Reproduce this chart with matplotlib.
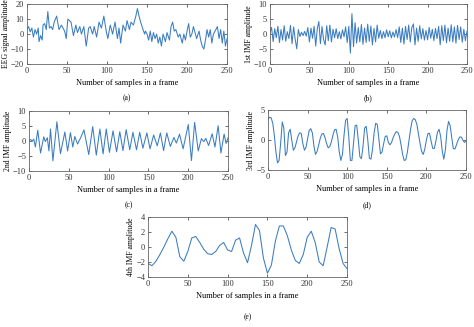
import matplotlib
matplotlib.use("Agg")
import matplotlib.pyplot as plt

plt.rcParams['font.family'] = ['Liberation Serif', 'DejaVu Serif']
plt.rcParams['font.size'] = 6

# (a) EEG signal (sample index, amplitude)
eeg_x = [0, 2, 4, 6, 8, 10, 12, 14, 15, 17, 19, 20, 22, 24, 26, 28, 30, 32, 34, 37,
         40, 43, 47, 49, 51, 55, 58, 61, 63, 66, 68, 71, 74, 77, 79, 82, 84, 87, 90, 93,
         96, 99, 101, 104, 107, 110, 113, 115, 117, 120, 123, 125, 128, 130, 133, 136, 138, 140, 142, 145,
         147, 148, 150, 152, 154, 156, 158, 160, 162, 164, 166, 168, 170, 173, 175, 178, 180, 182, 184, 186,
         189, 191, 194, 196, 198, 200, 202, 204, 206, 208, 210, 212, 215, 217, 219, 221, 223, 225, 227, 229,
         231, 233, 235, 238, 240, 242, 244, 246, 248, 250]
eeg_y = [3, 5, 1.5, 4, -2, 3, 0, 4, -5, -1, -4, 6, 7, 3, 15, 4, 5, 3, 8, 12,
         3, 6, 2, -3, 10, 8, -1, 6, 1, 5, 0, 5, -8, 4, 5, 0, 5, -2, 8, 4,
         12, 2, -3, 6, 0, 8, -3, 4, -6, 6, 2, 9, 3, 8, 6, 12, 17, 12, 8, 3,
         0, 2, 0, -4, 2, -5, 1, -3, 0, -6, -2, -8, 0, -5, 1, -4, 5, 8, 2, 3,
         -2, 0, -6, 0, -4, 2, 7, -2, 0, 5, 1, -3, 2, -4, -8, -10, -4, 3, -2, 3,
         -6, 0, 2, 5, -3, 3, -6, 2, -8, -3]

# (b) 1st IMF, every 2nd sample
imf1_x = list(range(0, 251, 2))
imf1_y = [0.5, 2.2, -2.5, 1.8, -1.2, 2.6, -2.8, 1.5, -2.0, 2.8,
          -2.4, 0.8, -1.5, 2.9, -3.2, 2.4, -1.8, -4.9, 1.5, -0.8,
          0.6, -0.5, 0.9, -0.7, 2.2, -2.6, 2.0, -1.4, 2.6, -4.0,
          1.8, 4.2, -3.2, 2.5, -1.8, -3.6, 2.8, -2.2, 3.0, -2.6,
          1.6, -1.2, 1.8, -1.5, 0.8, -1.6, 1.4, -0.9, 2.4, -2.8,
          2.6, -6.3, 6.8, -4.2, 3.8, -3.0, 2.2, -2.6, 3.2, -3.4,
          2.0, -2.8, 3.3, -2.4, 2.7, -3.6, 1.9, -2.6, 3.0, -1.4,
          1.2, -1.5, 0.8, -1.2, 1.4, -0.9, 1.1, -1.3, 0.7, -1.0,
          1.5, -1.2, 2.4, -2.8, 2.0, -3.3, 2.6, -1.8, 3.0, -2.6,
          2.2, 3.4, -3.6, 2.0, -2.4, 2.8, -1.6, 1.8, -2.0, 1.2,
          -1.9, 2.2, -1.4, 1.6, -2.2, 1.9, -1.5, 2.6, -3.6, 2.8,
          -2.2, 3.0, -2.9, 2.0, -2.4, 3.1, -2.6, 2.4, -3.0, 2.9,
          -1.8, 2.4, -2.7, 1.6, -2.2, 1.0]

# (c) 2nd IMF, turning points and shoulders
imf2_x = [0, 2, 4, 6, 8, 11, 14.5, 18.5, 20.5, 23, 25, 27, 30, 35, 39.5, 45, 48.5, 52, 55, 57.5,
          61, 65, 69, 75, 80, 84.5, 89, 93, 97, 101, 105.5, 110, 114, 118, 122, 126.5, 130.5, 135, 139, 143, 148,
          152, 156.5, 161, 165, 169, 173, 177.5, 182, 185, 189, 193.5, 200, 204, 208, 212.5, 216.5, 219.5, 222, 225.5, 230,
          233.5, 237.5, 241, 245, 247.5, 250]
imf2_y = [0.2, 0.5, 0.0, 0.6, -2.0, 3.6, -4.0, 1.4, -0.2, 1.1, -3.3, 4.0, -6.6, 6.4, -4.2, 3.0, -3.3, 2.8, -2.0, 1.5,
          -1.0, 1.2, 3.7, -4.5, 4.8, -4.7, 4.0, -4.3, 4.0, -3.8, 3.4, -3.6, 3.1, -3.2, 3.8, -2.9, 2.9, -2.9, 2.9, -2.4, 2.7,
          -2.6, 2.0, -1.6, 2.7, -3.2, 2.7, -1.8, 1.2, -0.7, 2.3, -2.6, 5.5, -6.5, 6.2, -3.3, 0.8, -0.2, 0.9, -1.5, 2.4,
          -2.0, 5.1, -4.0, 2.3, -0.8, 1.1]

# (d) 3rd IMF, every 2nd sample
imf3_x = list(range(0, 251, 2))
imf3_y = [3.4, 3.8, 3.7, 2.8, 0.8, -2.0, -3.8, -3.4, -0.5, 3.0,
          2.0, -2.6, -2.0, 1.2, 1.8, 0.0, -1.7, -1.3, -0.3, 0.7,
          1.2, 1.1, -0.6, -1.7, -1.2, 0.2, 1.6, 1.9, 1.2, -1.0,
          -2.4, -1.9, -0.8, 0.3, 1.0, 1.1, 0.4, -0.6, -1.3, -1.1,
          -0.3, 0.8, 1.7, 1.8, 0.5, -2.0, -3.4, -2.4, 0.8, 3.3,
          3.6, 0.5, -3.4, -3.4, -0.5, 2.4, 2.5, 0.0, -2.8, -3.1,
          -1.0, 2.0, 2.3, 0.0, -3.0, -3.2, -1.5, 1.2, 2.8, 2.6,
          0.2, -2.3, -2.0, -0.6, 0.6, 0.7, -0.4, -0.8, -0.4, 0.4,
          1.0, 1.4, 1.3, 0.6, -0.8, -2.4, -3.4, -3.3, -2.0, -0.1,
          1.8, 3.2, 3.6, 3.4, 2.6, 1.0, -0.6, -1.9, -2.4, -1.5,
          0.0, 1.1, 1.1, -0.2, -1.4, -1.4, -0.2, 1.3, 1.8, 0.6,
          -1.8, -3.2, -1.6, 1.6, 3.1, 2.4, 0.4, -1.4, -1.5, -0.8,
          0.0, 0.5, 0.5, 0.0, -0.4, -0.2]

# (e) 4th IMF, every 5th sample
imf4_x = list(range(0, 251, 5))
imf4_y = [-2.2, -2.5, -1.9, -1.0, 0.0, 1.1, 2.1, 1.3, -1.3, -1.9,
          -0.6, 1.2, 1.4, 0.6, -0.3, -0.9, -1.0, -0.6, 0.2, 0.6,
          -0.4, -0.6, 0.9, 1.2, -0.8, -2.1, 0.2, 3.0, 2.2, -1.5,
          -3.5, -2.4, 0.8, 2.8, 2.8, 1.5, -0.4, -1.8, -2.2, -1.0,
          1.3, 2.1, 0.6, -2.0, -2.5, 0.0, 2.6, 2.4, -0.2, -2.2,
          -2.9]

panels = [
    (eeg_x, eeg_y, 'EEG signal amplitude', [-20, -10, 0, 10, 20], '(a)', [0.057, 0.804, 0.422, 0.1835], 0.105),
    (imf1_x, imf1_y, '1st IMF amplitude', [-10, -5, 0, 5, 10], '(b)', [0.5696, 0.804, 0.4156, 0.1835], 0.105),
    (imf2_x, imf2_y, '2nd IMF amplitude', [-10, -5, 0, 5, 10], '(c)', [0.0612, 0.477, 0.420, 0.1835], 0.105),
    (imf3_x, imf3_y, '3rd IMF amplitude', [-5, 0, 5], '(d)', [0.5654, 0.480, 0.4177, 0.1835], 0.108),
    (imf4_x, imf4_y, '4th IMF amplitude', [-4, -2, 0, 2, 4], '(e)', [0.3122, 0.153, 0.420, 0.1835], 0.124),
]

fig = plt.figure(figsize=(4.74, 3.27), dpi=100)
for xs, ys, ylab, yt, tag, pos, gap in panels:
    ax = fig.add_axes(pos)
    ax.plot(xs, ys, color='#3a7cc2', lw=0.75)
    ax.set_xlim(0, 250)
    ax.set_ylim(yt[0], yt[-1])
    ax.set_xticks([0, 50, 100, 150, 200, 250])
    ax.set_yticks(yt)
    ax.tick_params(direction='in', length=2, width=0.5, top=True, right=True, pad=2,
                   labelsize=6, colors='#333333')
    for s in ax.spines.values():
        s.set_linewidth(0.6)
        s.set_color('#666666')
    ax.set_xlabel('Number of samples in a frame', fontsize=6, labelpad=3)
    ax.set_ylabel(ylab, fontsize=5.6, labelpad=1)
    cx = pos[0] + pos[2] / 2
    fig.text(cx, pos[1] - gap, tag, ha='center', va='center', fontsize=5.5)

fig.savefig('out.png', dpi=100)
